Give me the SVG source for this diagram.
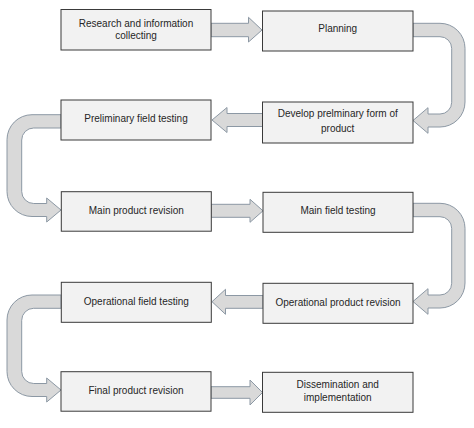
<svg xmlns="http://www.w3.org/2000/svg" width="474" height="428" viewBox="0 0 474 428">
<style>
.box{fill:#f2f2f2;stroke:#3a3a3a;stroke-width:1}
.arr{fill:#d9d9d9;stroke:#8c98a4;stroke-width:1;stroke-linejoin:miter}
text{font-family:"Liberation Sans",Arial,sans-serif;font-size:10px;fill:#262626;text-anchor:middle}
</style>
<rect width="474" height="428" fill="#ffffff"/>
<g id="connectors">
<path class="arr" d="M211,23.3 H248.5 V17.3 L262,30 L248.5,42 V36.7 H211 Z"/>
<path class="arr" d="M262.5,113.5 H227 V107.5 L212,120 L227,132.5 V126.5 H262.5 Z"/>
<path class="arr" d="M211,204.3 H250 V199.3 L263,210.8 L250,222.3 V217.3 H211 Z"/>
<path class="arr" d="M263,295.5 H225.5 V289.3 L212,301.7 L225.5,314.3 V308.3 H263 Z"/>
<path class="arr" d="M211,386.7 H250 V380 L262.5,392.5 L250,405 V398.3 H211 Z"/>
<path class="arr" d="M413,23.3 H440 A25,25 0 0 1 465,48.3 V102 A25,25 0 0 1 440,127 H428 V133.3 L413,120.5 L428,107.7 V114 H440 A11.7,11.7 0 0 0 451.7,102.3 V48.4 A11.7,11.7 0 0 0 440,36.7 H413 Z"/>
<path class="arr" d="M413,203.3 H440 A25,25 0 0 1 465,228.3 V283 A25,25 0 0 1 440,308 H428 V314.3 L413,301.5 L428,288.7 V295 H440 A11.7,11.7 0 0 0 451.7,283.3 V228.4 A11.7,11.7 0 0 0 440,216.7 H413 Z"/>
<path class="arr" d="M61,114.7 H32 A25,25 0 0 0 7,139.7 V191.5 A25,25 0 0 0 32,216.5 H46.7 V222 L61,210 L46.7,198 V203.5 H33.7 A12,12 0 0 1 21.7,191.5 V140 A12,12 0 0 1 33.7,128 H61 Z"/>
<path class="arr" d="M61,295 H32 A25,25 0 0 0 7,320 V371.5 A25,25 0 0 0 32,396.5 H46.7 V402 L61,390 L46.7,378 V383.5 H33.7 A12,12 0 0 1 21.7,371.5 V320.3 A12,12 0 0 1 33.7,308.3 H61 Z"/>
</g>
<g id="n1"><rect class="box" x="61" y="9.5" width="150" height="40.5"/><text x="136" y="26.5">Research and information</text><text x="136" y="39">collecting</text></g>
<g id="n2"><rect class="box" x="262.5" y="11" width="150.5" height="40"/><text x="337.7" y="32">Planning</text></g>
<g id="n3"><rect class="box" x="61" y="100" width="150" height="40"/><text x="136" y="122">Preliminary field testing</text></g>
<g id="n4"><rect class="box" x="262.5" y="102" width="150.5" height="41"/><text x="337.7" y="117">Develop prelminary form of</text><text x="337.7" y="132">product</text></g>
<g id="n5"><rect class="box" x="61.3" y="191.7" width="150" height="39.5"/><text x="136.3" y="213.5">Main product revision</text></g>
<g id="n6"><rect class="box" x="263" y="192.3" width="150" height="40"/><text x="338" y="214">Main field testing</text></g>
<g id="n7"><rect class="box" x="61.3" y="282.3" width="150" height="40"/><text x="136.3" y="305">Operational field testing</text></g>
<g id="n8"><rect class="box" x="263" y="283.3" width="150" height="40"/><text x="338" y="306">Operational product revision</text></g>
<g id="n9"><rect class="box" x="61" y="371.7" width="150" height="39.5"/><text x="136" y="393.5">Final product revision</text></g>
<g id="n10"><rect class="box" x="262.5" y="372.3" width="150.5" height="40"/><text x="337.7" y="387.5">Dissemination and</text><text x="337.7" y="401">implementation</text></g>
</svg>
